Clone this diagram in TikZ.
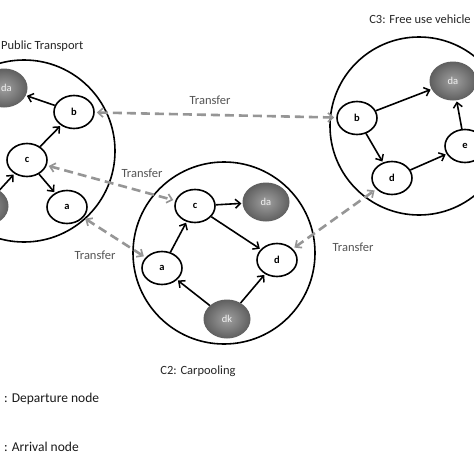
\documentclass[tikz,border=0pt]{standalone}
\usepackage{fontspec}
\setmainfont{Carlito}
\usetikzlibrary{shapes.geometric,arrows.meta}
\definecolor{ginner}{RGB}{160,160,160}
\definecolor{gouter}{RGB}{95,95,95}
\definecolor{tgray}{RGB}{150,150,150}
\definecolor{lblgray}{RGB}{85,85,85}
\tikzset{
  wnode/.style={ellipse, draw, line width=1.6pt, fill=white, minimum width=40pt, minimum height=33pt, inner sep=0pt, font=\bfseries\fontsize{10.5}{12}\selectfont},
  gnode/.style={ellipse, shading=radial, inner color=ginner, outer color=gouter, minimum width=47pt, minimum height=39pt, inner sep=0pt, text=white!88!gray, font=\fontsize{10.5}{12}\selectfont},
  arr/.style={-{Straight Barb[length=5pt,width=9pt,line width=1.5pt]}, line width=1.6pt, shorten >=1pt},
  trans/.style={{Straight Barb[length=5pt,width=9pt,line width=1.7pt]}-{Straight Barb[length=5pt,width=9pt,line width=1.7pt]}, draw=tgray, dash pattern=on 9pt off 5pt, line width=2.6pt, shorten >=2pt, shorten <=2pt},
  cluster/.style={circle, draw, line width=1.6pt, inner sep=0pt},
  lbl/.style={font=\fontsize{12.5}{14}\selectfont, text=black!85, inner sep=0pt},
  tlbl/.style={font=\fontsize{12.5}{14}\selectfont, text=lblgray, inner sep=0pt},
  leg/.style={font=\fontsize{13.5}{15}\selectfont, text=black!90, inner sep=0pt, anchor=west}
}
\begin{document}
\begin{tikzpicture}[x=1pt,y=-1pt]
\useasboundingbox (0,0) rectangle (474,474);
\clip (0,0) rectangle (474,474);
\fill[white] (0,0) rectangle (474,474);
% clusters
\node[cluster, minimum size=182pt] (C1) at (24,151) {};
\node[cluster, minimum size=182pt] (C2) at (224,253) {};
\node[cluster, minimum size=178pt] (C3) at (419,126) {};
% labels
\node[lbl, anchor=west] (L1) at (1,46) {Public Transport};
\node[lbl] (L2) at (198,371) {C2: Carpooling};
\node[lbl] (L3) at (420,19) {C3: Free use vehicle};
% C1 nodes
\node[gnode] (da1) at (4,88) {};
\node[gnode] (dk1) at (-15,206) {};
\node[font=\fontsize{10.5}{12}\selectfont, text=white!88!gray, inner sep=0pt, anchor=west] (da1t) at (1,88) {da};
\node[wnode] (b1) at (74,112) {b};
\node[wnode] (c1) at (27,160) {c};
\node[wnode] (a1) at (67,207) {a};
% C2 nodes
\node[wnode] (c2) at (195,206) {c};
\node[gnode] (da2) at (266,202) {da};
\node[wnode] (a2) at (162,268) {a};
\node[wnode] (d2) at (277,260) {d};
\node[gnode] (dk2) at (227,319) {dk};
% C3 nodes
\node[gnode] (da3) at (453,81) {da};
\node[wnode] (b3) at (357,118) {b};
\node[wnode] (d3) at (392,178) {d};
\node[wnode] (e3) at (465,146) {e};
% C1 arrows
\draw[arr] (c1) -- (b1);
\draw[arr] (b1) -- (da1);
\draw[arr] (dk1) -- (c1);
\draw[arr] (c1) -- (a1);
% C2 arrows
\draw[arr] (a2) -- (c2);
\draw[arr] (c2) -- (da2);
\draw[arr] (c2) -- (d2);
\draw[arr] (dk2) -- (a2);
\draw[arr] (dk2) -- (d2);
% C3 arrows
\draw[arr] (b3) -- (da3);
\draw[arr] (b3) -- (d3);
\draw[arr] (d3) -- (e3);
\draw[arr] (e3) -- (da3);
% transfers
\draw[trans] (b1) -- (b3);
\draw[trans] (c1) -- (c2);
\draw[trans] (a1) -- (a2);
\draw[trans] (d2) -- (d3);
\node[tlbl] (t1) at (210,100) {Transfer};
\node[tlbl] (t2) at (142,173) {Transfer};
\node[tlbl] (t3) at (95,255) {Transfer};
\node[tlbl] (t4) at (353,247) {Transfer};
% legend
\node[leg] (lg1) at (4,399) {: Departure node};
\node[leg] (lg2) at (4,447) {: Arrival node};
\end{tikzpicture}
\end{document}
